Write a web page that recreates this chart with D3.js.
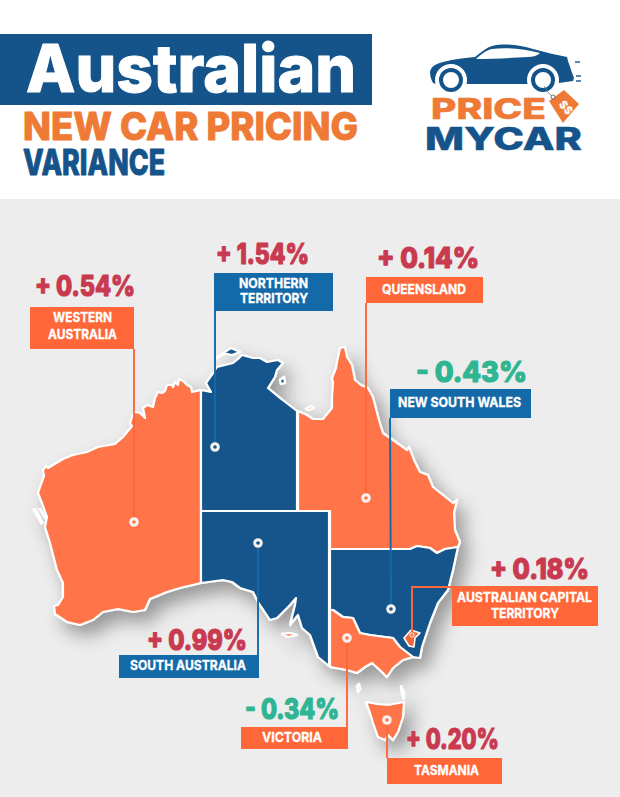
<!DOCTYPE html>
<html><head><meta charset="utf-8">
<script src="https://cdn.jsdelivr.net/npm/d3@7"></script>
<style>html,body{margin:0;padding:0;background:#fff}svg{display:block}text{font-family:Inter,"Open Sans",sans-serif}</style>
</head><body><svg id="c" width="620" height="797"></svg>
<script>
// ---- data ----
const regions = ["Western Australia","Northern Territory","Queensland","New South Wales","Australian Capital Territory","Victoria","Tasmania","South Australia"];
const labelLines = [["WESTERN","AUSTRALIA"],["NORTHERN","TERRITORY"],["QUEENSLAND"],["NEW SOUTH WALES"],["AUSTRALIAN CAPITAL","TERRITORY"],["VICTORIA"],["TASMANIA"],["SOUTH AUSTRALIA"]];
const variance = [0.54,1.54,0.14,-0.43,0.18,-0.34,0.20,0.99];
const groups = ["o","b","o","b","o","o","o","b"];

// outlines on the picture's map grid
const outlineWA = [[201,511],[201,390],[192,392],[191,387],[187,385],[183,381],[179,379],[178,385],[175,382],[173,387],[172,385],[167,385],[165,391],[162,393],[158,392],[155,398],[153,407],[147,405],[143,408],[145,418],[140,413],[135,412],[132,417],[130,423],[132,426],[123,437],[115,444],[98,447],[87,452],[73,455],[63,459],[48,468],[46,466],[43,470],[44,476],[38,493],[42,503],[47,517],[45,527],[50,543],[57,570],[63,583],[63,597],[58,605],[54,606],[55,614],[67,622],[80,625],[93,620],[103,612],[118,609],[133,612],[145,610],[150,599],[167,592],[180,588],[201,583]];
const outlineNT = [[201,511],[201,390],[211,392],[206,383],[213,373],[217,367],[233,363],[238,359],[242,355],[253,358],[260,358],[267,362],[278,360],[283,363],[277,370],[275,377],[268,388],[280,398],[297,411],[297,511]];
const outlineQLD = [[298,511],[298,411],[307,415],[313,419],[323,419],[332,408],[332,397],[333,383],[332,378],[336,368],[337,362],[340,348],[345,347],[347,357],[352,365],[355,380],[361,385],[368,388],[373,397],[379,420],[383,433],[393,440],[407,450],[409,447],[415,462],[420,472],[428,475],[433,487],[443,495],[453,503],[457,500],[454,513],[455,530],[460,542],[458,547],[445,549],[437,553],[430,548],[417,546],[410,549],[330,549],[330,511]];
const outlineSA = [[201,511],[329,511],[329,666],[318,657],[310,635],[302,628],[298,615],[290,625],[295,605],[296,598],[290,605],[277,618],[270,620],[258,602],[253,592],[240,588],[232,582],[223,580],[201,583]];
const outlineNSW = [[330,549],[410,549],[417,546],[430,548],[437,553],[445,549],[458,547],[453,570],[448,590],[438,603],[430,623],[422,647],[420,658],[413,657],[400,647],[393,638],[370,635],[360,633],[353,618],[343,617],[333,610],[330,610]];
const outlineVIC = [[330,610],[333,610],[343,617],[353,618],[360,633],[370,635],[393,638],[400,647],[413,657],[403,660],[393,668],[387,677],[382,672],[372,663],[365,667],[357,673],[347,670],[330,667]];
const outlineACT = [[404,638],[411,630],[420,633],[415,638],[414,647],[409,646]];
const outlineTAS = [[366,702],[377,704],[388,705],[404,702],[403,717],[398,732],[393,740],[388,735],[385,740],[378,737],[373,723],[370,713]];
const islandsNavy = [[[217,357],[228,351],[217,358]],[[223,353],[231,348],[240,352],[232,355]],[[280,380],[284,377],[285,383],[281,384]]];
const islandsOrange = [[[306,409],[311,406],[314,408],[309,410]],[[357,686],[359,684],[360,689],[358,692]],[[401,686],[404,693],[404,699],[402,694]],[[282,634],[290,633],[297,635],[288,637]]];
const islandsWhite = [[[32,509],[36,508],[44,523],[41,525]],[[38,508],[41,508],[47,519],[45,520]]];
const pins = [[134,522],[215,447],[366,498],[391,609],[412,635],[347,638],[387,720],[258,543]];

// ---- layout ----
const boxes = [[30,307,104,42],[214,273,119,38],[366,277,117,26],[390,389,141,29],[452,586,146,40],[241,727,107,22],[387,758,115,26],[119,655,140,23]];
const valueText = [[35,135,296],[216,309,264],[377,479,268],[416,527,382],[490,589,579],[245,339,719],[406,499,749],[147,247,650]];
const labelText = [[[53,112,322],[48,117,339]],[[239,308,288],[240,308,303]],[[382,466,294]],[[398,521,407]],[[457,592,602],[491,559,618]],[[262,322,742]],[[414,479,775]],[[130,246,670]]];
const leaderEnds = [[[134,349]],[[215,311]],[[366,303]],[[390,418]],[[412,587],[452,587]],[[347,727]],[[387,758]],[[258,678]]];
const fillMap = {o:"#ff754a",b:"#15548b"}, fillBox = {o:"#ff6739",b:"#146aa9"};

const svg = d3.select("#c");
svg.append("rect").attr("x",0).attr("y",199).attr("width",620).attr("height",598).attr("fill","#ededed");

// header
svg.append("rect").attr("x",0).attr("y",34).attr("width",372).attr("height",71).attr("fill","#15548b");
const fit = (sel,t,x0,x1,y,size,fill,w,bold=0) => sel.append("text").text(t).attr("x",x0).attr("y",y)
  .attr("textLength",x1-x0).attr("lengthAdjust","spacingAndGlyphs").attr("font-size",size).attr("font-weight",w).attr("fill",fill)
  .attr("stroke",bold?fill:"none").attr("stroke-width",bold).attr("stroke-linejoin","round");
fit(svg,"Australian",26,356,92,66,"#fff",800,1);
fit(svg,"NEW CAR PRICING",23,358,140,38,"#ee7a36",800,.9);
fit(svg,"VARIANCE",23,165,175,35,"#15548b",800,.9);

// logo
const logo = svg.append("g");
logo.append("path").attr("fill","#15548b").attr("d","M430 72C431 66 436 64 443 62C455 59 465 58 475 57C481 52 486 48 492 46C505 43 520 45 533 49C545 52 556 55 567 57C568 62 570 66 571 70L574 78L573 81L559 83L528 84L467 84L436 84L433 83C431 79 430 76 430 72Z");
logo.append("path").attr("fill","#fff").attr("d","M476 59C481 54 487 50 492 49C507 47 525 49 540 53C537 56 532 57 528 57C510 58 492 59 476 59Z");
logo.selectAll("circle.a").data([451,543]).join("circle").attr("class","a").attr("cx",d=>d).attr("cy",80).attr("r",16).attr("fill","#fff");
logo.selectAll("circle.w").data([451,543]).join("circle").attr("class","w").attr("cx",d=>d).attr("cy",80).attr("r",10).attr("fill","#fff").attr("stroke","#15548b").attr("stroke-width",4);
logo.selectAll("line").data([[575,62,580],[576,76,581],[576,81,581]]).join("line").attr("x1",d=>d[0]).attr("x2",d=>d[2]).attr("y1",d=>d[1]).attr("y2",d=>d[1]).attr("stroke","#15548b").attr("stroke-width",1.4);
logo.append("path").attr("d","M544 86Q548 94 553 97").attr("fill","none").attr("stroke","#777").attr("stroke-width",0.8);
fit(logo,"PRICE",431,546,119,28,"#ee7a36",800,.5);
fit(logo,"MYCAR",425,582,150,31,"#15548b",800,.5);
logo.append("path").attr("fill","#ee7a36").attr("d","M549 101L564 90L579 104L563 123Z");
logo.append("circle").attr("cx",553).attr("cy",97).attr("r",2).attr("fill","#fff").attr("stroke","#333").attr("stroke-width",.7);
logo.append("text").text("$$").attr("transform","translate(563,110) rotate(50)").attr("text-anchor","middle").attr("font-size",11).attr("font-weight",800).attr("fill","#fff");

// map
const defs = svg.append("defs");
const flt = defs.append("filter").attr("id","sh").attr("x","-20%").attr("y","-20%").attr("width","150%").attr("height","150%");
flt.append("feDropShadow").attr("dx",8).attr("dy",10).attr("stdDeviation",9).attr("flood-color","#000").attr("flood-opacity",.36);

const projection = d3.geoIdentity();
const path = d3.geoPath(projection);
const poly = (ring,g) => ({type:"Feature",properties:{g},geometry:{type:"Polygon",coordinates:[ring.concat([ring[0]])]}});
const states = [[outlineWA,"o"],[outlineNT,"b"],[outlineQLD,"o"],[outlineSA,"b"],[outlineNSW,"b"],[outlineVIC,"o"],[outlineTAS,"o"]].map(d=>poly(d[0],d[1]));
const isl = islandsNavy.map(r=>poly(r,"b")).concat(islandsOrange.map(r=>poly(r,"o")));
const whiteBits = islandsWhite.map(r=>poly(r,"w"));

const map = svg.append("g").attr("filter","url(#sh)");
map.selectAll("path.s").data(states.concat(isl)).join("path").attr("class","s").attr("d",path)
  .attr("fill",d=>fillMap[d.properties.g]).attr("stroke","#fff").attr("stroke-width",2.2).attr("stroke-linejoin","round");
map.selectAll("path.w").data(whiteBits).join("path").attr("class","w").attr("d",path).attr("fill","#fff");
svg.append("path").datum(poly(outlineACT,"o")).attr("d",path).attr("fill","#f0663a").attr("stroke","#fff").attr("stroke-width",1.6).attr("stroke-linejoin","round");

// leaders, boxes, texts
const line = d3.line();
svg.selectAll("path.lead").data(regions).join("path").attr("class","lead")
  .attr("d",(d,i)=>line([projection(pins[i])].concat(leaderEnds[i])))
  .attr("fill","none").attr("stroke",(d,i)=>fillBox[groups[i]]).attr("stroke-width",1.9);
svg.selectAll("rect.box").data(regions).join("rect").attr("class","box")
  .attr("x",(d,i)=>boxes[i][0]).attr("y",(d,i)=>boxes[i][1]).attr("width",(d,i)=>boxes[i][2]).attr("height",(d,i)=>boxes[i][3])
  .attr("fill",(d,i)=>fillBox[groups[i]]);
regions.forEach((r,i)=>{
  labelLines[i].forEach((t,j)=>{const p=labelText[i][j]; fit(svg,t,p[0],p[1],p[2],13.5,"#fff",700,.3);});
  const v=variance[i], p=valueText[i];
  fit(svg,(v>0?"+ ":"- ")+d3.format(".2f")(Math.abs(v))+"%",p[0],p[1],p[2],28,v>0?"#c93a50":"#2fb592",800,1.2);
  const [cx,cy]=projection(pins[i]), small=i===4;
  svg.append("circle").attr("cx",cx).attr("cy",cy).attr("r",small?2.2:3.3).attr("fill",fillMap[groups[i]]).attr("stroke","#f4f1ee").attr("stroke-width",small?1:3);
});
</script></body></html>
